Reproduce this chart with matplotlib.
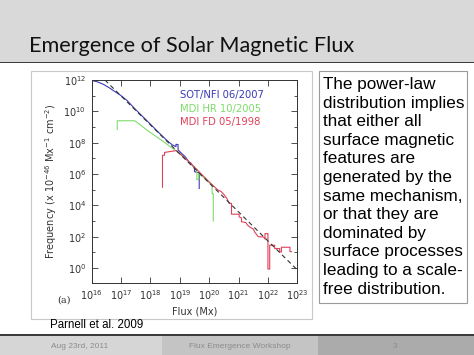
import numpy as np
import matplotlib
matplotlib.use("Agg")
import matplotlib.pyplot as plt
from matplotlib.patches import Rectangle
from matplotlib.ticker import NullFormatter, FixedLocator

# ---------- data (log10 flux, log10 frequency); repeated x = vertical step ----------

# SOT/NFI 06/2007 (blue)
blue_logx = [16.0, 16.2, 16.4, 16.6, 16.8, 17.0, 17.2, 17.4, 17.6, 17.8,
             18.0, 18.2, 18.4, 18.6, 18.75, 18.87, 18.87, 18.94, 18.94, 19.1,
             19.2, 19.3, 19.38, 19.45, 19.5, 19.5, 19.6, 19.66, 19.66]
blue_logy = [11.97, 11.88, 11.72, 11.5, 11.25, 11.0, 10.7, 10.3, 9.92, 9.55,
             9.18, 8.8, 8.43, 8.08, 7.85, 7.75, 7.9, 7.88, 7.54, 7.25,
             7.07, 6.8, 6.7, 6.5, 6.45, 6.15, 6.1, 6.1, 5.08]

# MDI HR 10/2005 (green)
green_logx = [16.87, 16.87, 17.46, 17.6, 17.92, 18.37, 18.82, 19.0, 19.3, 19.5,
              19.58, 19.58, 19.64, 19.64, 19.8, 20.0, 20.1, 20.1, 20.14, 20.14]
green_logy = [8.84, 9.4, 9.4, 9.22, 8.75, 8.17, 7.55, 7.3, 6.8, 6.4,
              6.3, 5.65, 5.65, 6.05, 5.8, 5.45, 5.3, 4.75, 4.75, 3.0]

# MDI FD 05/1998 (red)
red_logx = [18.41, 18.41, 18.48, 18.48, 18.72, 18.88, 19.0, 19.3, 19.6, 20.0,
            20.3, 20.4, 20.5, 20.6, 20.68, 20.76, 20.76, 21.02, 21.02, 21.1,
            21.1, 21.25, 21.3, 21.38, 21.5, 21.55, 21.67, 21.85, 21.9, 21.9,
            22.0, 22.0, 22.06, 22.06, 22.23, 22.23, 22.4, 22.4, 22.46, 22.46,
            22.75, 22.75, 22.8]
red_logy = [5.16, 7.2, 7.2, 7.38, 7.45, 7.5, 7.3, 6.8, 6.25, 5.5,
            4.97, 4.9, 4.7, 4.45, 4.13, 4.13, 3.44, 3.44, 3.27, 3.2,
            2.96, 2.9, 2.75, 2.62, 2.5, 2.3, 2.0, 1.99, 1.85, 2.2,
            2.2, -0.06, -0.06, 1.46, 1.46, 1.25, 1.25, 1.03, 1.03, 1.33,
            1.33, 1.05, 1.05]

# power-law fit (dashed)
fit_logx = [16.45, 22.97]
fit_logy = [12.0, -0.06]

labels = ["SOT/NFI 06/2007", "MDI HR 10/2005", "MDI FD 05/1998"]
colors = ["#3a3ab8", "#7fdc6a", "#e0405a"]

bullet_text = ("The power-law\ndistribution implies\nthat either all\nsurface magnetic\n"
               "features are\ngenerated by the\nsame mechanism,\nor that they are\n"
               "dominated by\nsurface processes\nleading to a scale-\nfree distribution.")

W, H = 474, 355


def fx(px):
    return px / W


def fy(py):
    return 1 - py / H


def add_rect(fig, x0, y0, x1, y1, **kw):
    fig.patches.append(Rectangle((fx(x0), fy(y1)), fx(x1) - fx(x0), fy(y0) - fy(y1),
                                 transform=fig.transFigure, zorder=-5, **kw))


def main():
    fig = plt.figure(figsize=(4.74, 3.55), dpi=100)
    fig.patch.set_facecolor("white")

    # slide title bar
    add_rect(fig, 0, 0, W, 62, facecolor="#d9d9d9", edgecolor="none")
    add_rect(fig, 0, 61.5, W, 63, facecolor="#3c3c3c", edgecolor="none")
    fig.text(fx(29), fy(52), "Emergence of Solar Magnetic Flux", fontsize=15.6,
             family="Lato", color="#111111", va="baseline")

    # footer
    add_rect(fig, 0, 334, W, 336, facecolor="#3c3c3c", edgecolor="none")
    add_rect(fig, 0, 336, 162, H, facecolor="#d6d6d6", edgecolor="none")
    add_rect(fig, 162, 336, 318, H, facecolor="#c4c4c4", edgecolor="none")
    add_rect(fig, 318, 336, W, H, facecolor="#ababab", edgecolor="none")
    for x, s in [(80, "Aug 23rd, 2011"), (240, "Flux Emergence Workshop"), (395, "3")]:
        fig.text(fx(x), fy(346), s, fontsize=6, family="Liberation Sans",
                 color="#8c8c8c", ha="center", va="center")

    # chart frame and text box
    add_rect(fig, 31.5, 71, 311.5, 319, facecolor="white", edgecolor="#c8c8c8", linewidth=0.8)
    add_rect(fig, 318.5, 71, 466.5, 303, facecolor="white", edgecolor="#9a9a9a", linewidth=0.8)
    fig.text(fx(323), fy(77), bullet_text, fontsize=12.3, family="Liberation Sans",
             color="black", va="top", ha="left", linespacing=1.3)
    fig.text(fx(50), fy(325), "Parnell et al. 2009", fontsize=8.3,
             family="Liberation Sans", color="black", va="center")

    # the plot
    ax = fig.add_axes([fx(91.7), fy(283), fx(297.3) - fx(91.7), fy(80) - fy(283)])
    series = [(blue_logx, blue_logy), (green_logx, green_logy), (red_logx, red_logy)]
    for (lx, ly), c in zip(series, colors):
        ax.plot(10 ** np.array(lx), 10 ** np.array(ly), color=c, lw=0.8)
    ax.plot(10 ** np.array(fit_logx), 10 ** np.array(fit_logy), color="#333333",
            lw=0.8, dashes=(4, 3))

    ax.set_xscale("log")
    ax.set_yscale("log")
    ax.set_xlim(1e16, 1e23)
    ax.set_ylim(10 ** -0.95, 1e12)
    ax.xaxis.set_major_locator(FixedLocator([10.0 ** k for k in range(16, 24)]))
    ax.xaxis.set_minor_locator(FixedLocator([]))
    ax.yaxis.set_major_locator(FixedLocator([10.0 ** k for k in range(0, 13, 2)]))
    ax.yaxis.set_minor_locator(FixedLocator([10.0 ** k for k in range(1, 12, 2)]))
    ax.yaxis.set_minor_formatter(NullFormatter())
    ax.tick_params(which="both", direction="in", top=True, right=True,
                   labelsize=7, colors="#333333", pad=4)
    ax.tick_params(which="major", length=4, width=0.6)
    ax.tick_params(which="minor", length=2.5, width=0.6)
    for sp in ax.spines.values():
        sp.set_linewidth(0.7)
        sp.set_color("#333333")

    ax.set_xlabel("Flux (Mx)", fontsize=7, color="#333333", labelpad=3)
    ax.set_ylabel(r"Frequency (x 10$^{-46}$ Mx$^{-1}$ cm$^{-2}$)", fontsize=7,
                  color="#333333", labelpad=3)

    for i, (s, c) in enumerate(zip(labels, colors)):
        ax.text(0.43, 0.926 - i * 0.067, s, color=c, fontsize=7.2,
                transform=ax.transAxes, va="center")

    fig.text(fx(57), fy(300), "(a)", fontsize=7, family="DejaVu Serif",
             color="#333333", va="center")

    fig.savefig("out.png", dpi=100)
    plt.close(fig)


if __name__ == "__main__":
    main()
